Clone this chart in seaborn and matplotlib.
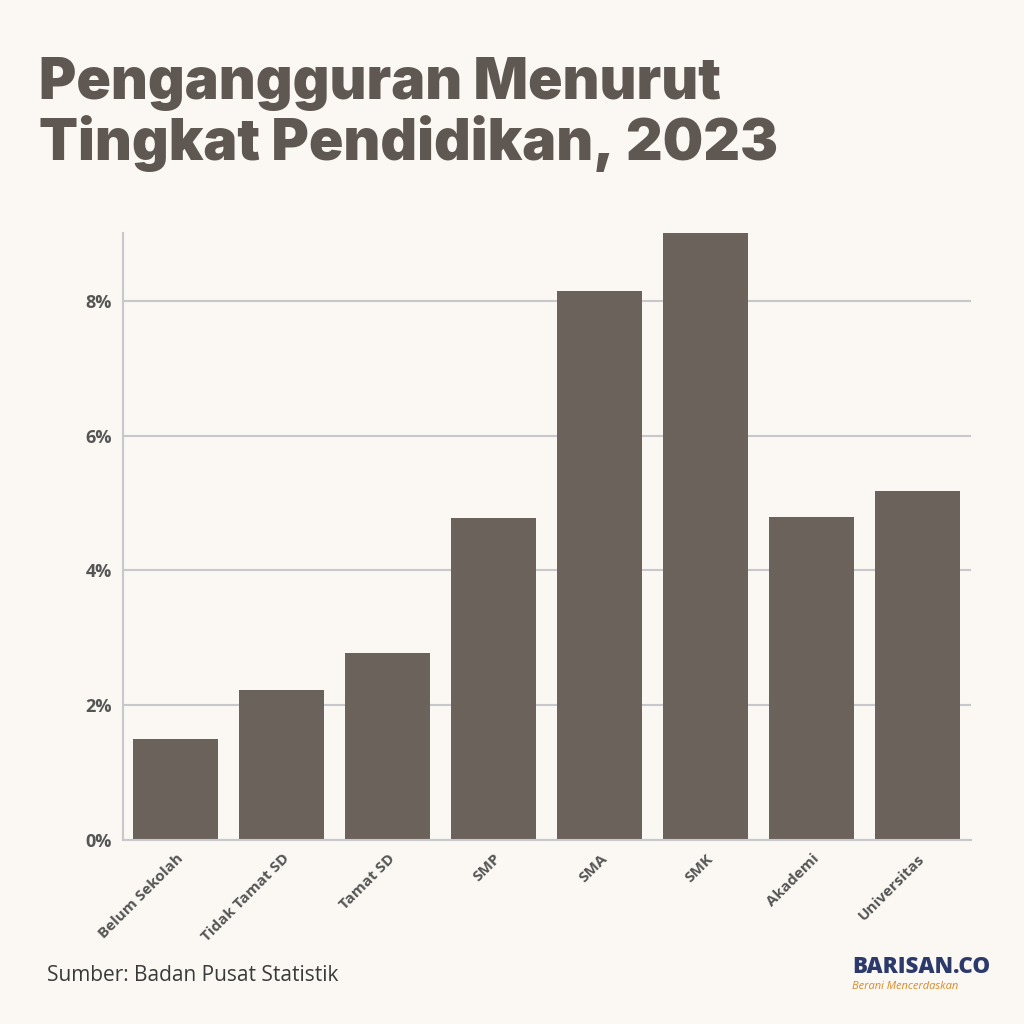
import matplotlib
matplotlib.use("Agg")
import matplotlib.pyplot as plt
import seaborn as sns
import pandas as pd
from matplotlib.ticker import FuncFormatter

categories = ["Belum Sekolah", "Tidak Tamat SD", "Tamat SD", "SMP", "SMA", "SMK", "Akademi", "Universitas"]
values = [1.50, 2.22, 2.77, 4.77, 8.15, 9.00, 4.79, 5.17]
yticks = [0, 2, 4, 6, 8]

bg = "#FBF8F3"
barc = "#6B635B"
sns.set_theme(style="white")
plt.rcParams['font.family'] = ['Open Sans', 'DejaVu Sans']

fig = plt.figure(figsize=(10.24, 10.24), dpi=100, facecolor=bg)
ax = fig.add_axes([0.120, 0.180, 0.828, 0.592])
ax.set_facecolor(bg)
df = pd.DataFrame({"cat": categories, "val": values})
sns.barplot(data=df, x="cat", y="val", color=barc, saturation=1, width=0.8, linewidth=0, ax=ax)
ax.set_ylim(0, 9.0)
ax.set_xlim(-0.5, 7.5)
ax.set_yticks(yticks)
ax.yaxis.set_major_formatter(FuncFormatter(lambda v, p: f"{v:.0f}%"))
ax.grid(axis="y", color="#C8C8CC", linewidth=1.5)
ax.set_axisbelow(True)
for s in ["top", "right"]:
    ax.spines[s].set_visible(False)
for s in ["left", "bottom"]:
    ax.spines[s].set_color("#C8C8CC")
    ax.spines[s].set_linewidth(1.5)
ax.set_xlabel(""); ax.set_ylabel("")
ax.tick_params(axis="y", labelsize=13, colors="#555555", length=0, pad=8)
ax.tick_params(axis="x", labelsize=11, colors="#555555", length=5, color="#C8C8CC")
for t in ax.get_yticklabels():
    t.set_fontweight("bold")
for t in ax.get_xticklabels():
    t.set_rotation(45); t.set_ha("right"); t.set_rotation_mode("anchor"); t.set_fontweight("bold")

fig.text(0.038, 0.832, "Pengangguran Menurut\nTingkat Pendidikan, 2023", fontsize=41, fontweight="black",
         family=["Inter", "DejaVu Sans"], color="#5F5852", linespacing=1.1, va="bottom")
fig.text(0.046, 0.042, "Sumber: Badan Pusat Statistik", fontsize=15, color="#3A3A3A")
fig.text(0.832, 0.050, "BARISAN.CO", fontsize=16, fontweight="black", color="#2B3A6B")
fig.text(0.832, 0.034, "Berani Mencerdaskan", fontsize=8, color="#D98A2B", style="italic")
fig.savefig("out.png", dpi=100, facecolor=bg)
